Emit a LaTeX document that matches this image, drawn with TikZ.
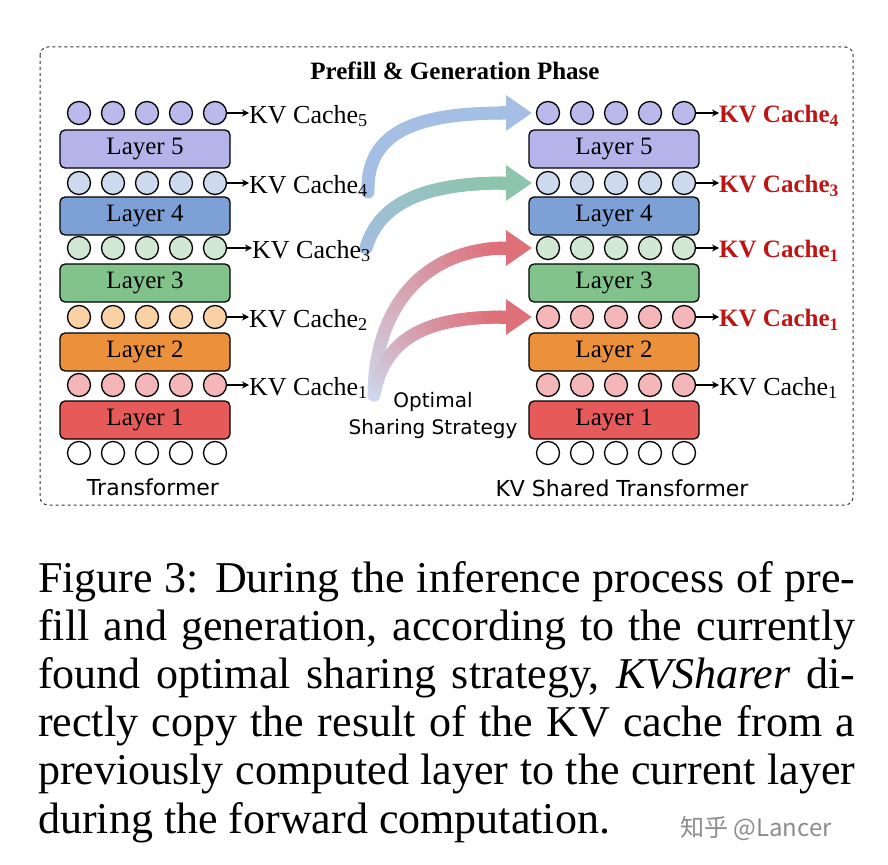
\documentclass[tikz,border=0pt]{standalone}
\usepackage{fontspec}
\setmainfont{Liberation Serif}
\newfontfamily\lblsans{DejaVu Sans}
\newfontfamily\cjk{Noto Sans CJK SC}
\usetikzlibrary{arrows.meta,calc}
\definecolor{cPur}{RGB}{180,180,235}
\definecolor{cBlu}{RGB}{125,160,215}
\definecolor{cGrn}{RGB}{130,195,140}
\definecolor{cOra}{RGB}{235,145,60}
\definecolor{cRed}{RGB}{230,90,90}
\definecolor{kPur}{RGB}{185,185,235}
\definecolor{kBlu}{RGB}{205,218,238}
\definecolor{kGrn}{RGB}{208,232,212}
\definecolor{kOra}{RGB}{250,208,165}
\definecolor{kPnk}{RGB}{245,182,186}
\definecolor{aBlu}{RGB}{165,190,228}
\definecolor{aGrn}{RGB}{140,196,172}
\definecolor{aRed}{RGB}{222,112,122}
\definecolor{kvred}{RGB}{190,20,20}
\tikzset{
  layer/.style={draw=black,line width=1.3pt,rounded corners=5pt,minimum width=170pt,minimum height=38pt,font=\fontsize{25}{29}\selectfont},
  neur/.style={draw=black,line width=1.3pt,circle,minimum size=23pt,inner sep=0pt},
  kv/.style={anchor=west,inner sep=0pt,font=\fontsize{26}{30}\selectfont},
  kvr/.style={kv,text=kvred,font=\fontsize{25}{30}\selectfont\bfseries},
  small arrow/.style={-{Stealth[length=7pt,width=7pt]},line width=1.1pt},
  sans/.style={font=\lblsans\fontsize{22}{26}\selectfont},
  captxt/.style={anchor=base west,inner sep=0pt,font=\fontsize{44}{48}\selectfont}
}
\newcommand{\gradarrow}[7]{% start, c1, c2, end, col start, col end, name
  \path (#1) .. controls (#2) and (#3) .. (#4)
    \foreach \k in {0,...,40}{ coordinate[pos=\k/40] (#7\k) };
  \foreach \k [evaluate=\k as \kp using int(\k-1), evaluate=\k as \pc using int(100-2.5*\k)] in {1,...,40}{
    \draw[line width=13pt,line cap=round,#5!\pc!#6] (#7\kp) -- (#7\k);
  }
}
\begin{document}
\begin{tikzpicture}[x=1pt,y=-1pt]
\useasboundingbox (0,0) rectangle (888,864);
\draw[dashed,line width=1pt,rounded corners=8pt,black!80] (40,47) rectangle (853,505);
\node[font=\fontsize{25}{29}\selectfont\bfseries] (title) at (455,71) {Prefill \& Generation Phase};

% ---------- arrows ----------
\gradarrow{368,192}{366,130}{420,113}{505,113}{aBlu}{aBlu}{b}
\draw[-{Triangle[length=26pt,width=34pt]},line width=13pt,aBlu] (500,113) -- (532,113);
\gradarrow{366,248}{380,200}{430,183}{505,183}{aBlu}{aGrn}{g}
\draw[-{Triangle[length=26pt,width=34pt]},line width=13pt,aGrn] (500,183) -- (532,183);
\gradarrow{374,395}{375,300}{430,249}{505,248}{kBlu}{aRed}{r}
\draw[-{Triangle[length=26pt,width=34pt]},line width=13pt,aRed] (500,248) -- (532,248);
\gradarrow{374,395}{385,335}{430,317}{505,317}{kBlu}{aRed}{s}
\draw[-{Triangle[length=26pt,width=34pt]},line width=13pt,aRed] (500,317) -- (532,317);

% ---------- left stack ----------
\node[layer,fill=cPur] (L5) at (145,149) {Layer 5};
\node[layer,fill=cBlu] (L4) at (145,216) {Layer 4};
\node[layer,fill=cGrn] (L3) at (145,283) {Layer 3};
\node[layer,fill=cOra] (L2) at (145,352) {Layer 2};
\node[layer,fill=cRed] (L1) at (145,420) {Layer 1};
\foreach \row/\y/\c in {a/113/kPur,b/183/kBlu,c/248/kGrn,d/317/kOra,e/385/kPnk,f/453/white}{
  \foreach \i/\x in {1/79,2/113,3/147,4/181,5/215}{
    \node[neur,fill=\c] (l\row\i) at (\x,\y) {};
  }
}
\node[kv] (kl5) at (249,116) {KV Cache\textsubscript{5}};
\node[kv] (kl4) at (249,186) {KV Cache\textsubscript{4}};
\node[kv] (kl3) at (252,251) {KV Cache\textsubscript{3}};
\node[kv] (kl2) at (249,320) {KV Cache\textsubscript{2}};
\node[kv] (kl1) at (249,388) {KV Cache\textsubscript{1}};
\foreach \r/\k in {a/kl5,b/kl4,c/kl3,d/kl2,e/kl1}{
  \draw[small arrow] (l\r5.east) -- (l\r5.east -| \k.west);
}
\node[sans] (tl) at (153,487) {Transformer};

% ---------- right stack ----------
\node[layer,fill=cPur] (R5) at (614,149) {Layer 5};
\node[layer,fill=cBlu] (R4) at (614,216) {Layer 4};
\node[layer,fill=cGrn] (R3) at (614,283) {Layer 3};
\node[layer,fill=cOra] (R2) at (614,352) {Layer 2};
\node[layer,fill=cRed] (R1) at (614,420) {Layer 1};
\foreach \row/\y/\c in {a/113/kPur,b/183/kBlu,c/248/kGrn,d/317/kPnk,e/385/kPnk,f/453/white}{
  \foreach \i/\x in {1/548,2/582,3/616,4/650,5/684}{
    \node[neur,fill=\c] (r\row\i) at (\x,\y) {};
  }
}
\node[kvr] (kr5) at (719,116) {KV Cache\textsubscript{4}};
\node[kvr] (kr4) at (719,186) {KV Cache\textsubscript{3}};
\node[kvr] (kr3) at (719,251) {KV Cache\textsubscript{1}};
\node[kvr] (kr2) at (719,320) {KV Cache\textsubscript{1}};
\node[kv] (kr1) at (719,388) {KV Cache\textsubscript{1}};
\foreach \r/\k in {a/kr5,b/kr4,c/kr3,d/kr2,e/kr1}{
  \draw[small arrow] (r\r5.east) -- (r\r5.east -| \k.west);
}
\node[sans] (tr) at (622,488) {KV Shared Transformer};
\node[sans,align=center,font=\lblsans\fontsize{20}{27}\selectfont] (opt) at (433,415) {Optimal\\Sharing Strategy};

% ---------- caption ----------
\node[captxt] (c1) at (38,592) {\makebox[817pt][s]{Figure 3: During the inference process of pre-}};
\node[captxt] (c2) at (38,640) {\makebox[817pt][s]{fill and generation, according to the currently}};
\node[captxt] (c3) at (38,688) {\makebox[817pt][s]{found optimal sharing strategy, \textit{KVSharer} di-}};
\node[captxt] (c4) at (38,736) {\makebox[817pt][s]{rectly copy the result of the KV cache from a}};
\node[captxt] (c5) at (38,784) {\makebox[817pt][s]{previously computed layer to the current layer}};
\node[captxt] (c6) at (38,833) {during the forward computation.};
\node[anchor=base west,inner sep=0pt,text=black!45,font=\cjk\fontsize{24}{28}\selectfont] (wm) at (680,836) {知乎 @Lancer};
\end{tikzpicture}
\end{document}
